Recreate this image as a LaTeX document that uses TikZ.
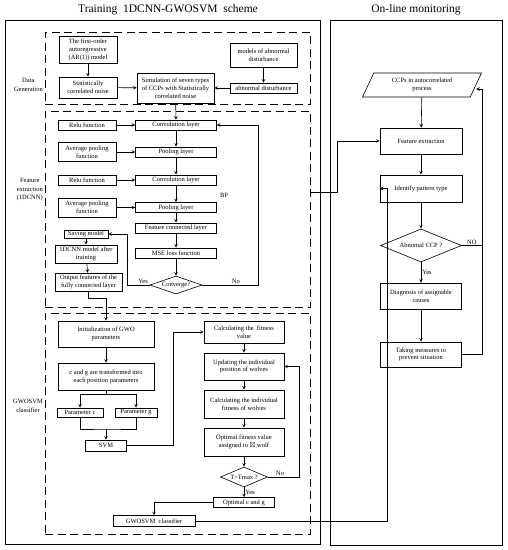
\documentclass[tikz,border=0pt]{standalone}
\usepackage{amsmath, amssymb}
\usepackage{fontspec}
\setmainfont{Liberation Serif}
\usetikzlibrary{shapes.geometric, arrows}
\tikzstyle{block} = [rectangle, draw=black, line width=0.6pt, align=center, inner sep=1pt, font=\fontsize{6.5}{7.8}\selectfont]
\tikzstyle{decision} = [diamond, draw=black, line width=0.6pt, align=center, inner sep=0pt, font=\fontsize{6.5}{7.8}\selectfont]
\tikzstyle{io} = [trapezium, trapezium left angle=65, trapezium right angle=115, trapezium stretches=true, draw=black, line width=0.6pt, align=center, inner sep=1pt, font=\fontsize{6.5}{7.8}\selectfont]
\tikzstyle{group} = [rectangle, draw=black, line width=1pt, dash pattern=on 8pt off 4.5pt, inner sep=0pt]
\tikzstyle{frame} = [draw=black, line width=1pt]
\tikzstyle{tag} = [align=center, inner sep=1pt, font=\fontsize{6.5}{8.5}\selectfont]
\tikzstyle{heading} = [inner sep=1pt, font=\fontsize{11.5}{14}\selectfont]
\tikzstyle{arrow} = [line width=0.6pt,->,>=stealth]

\begin{document}
\begin{tikzpicture}[x=1pt, y=-1pt]
\useasboundingbox (0,0) rectangle (508,550);
\node (lefttitle) [heading] at (168,10) {Training\ \ 1DCNN-GWOSVM\ \ scheme};
\node (righttitle) [heading] at (416,10) {On-line monitoring};
\draw [frame] (5,20) rectangle (320,544);
\draw [frame] (330,20) rectangle (502,545);

% training parts
\node (dgpart) [group, minimum width=265, minimum height=72] at (177.5,68) {};
\node (fepart) [group, minimum width=265, minimum height=196] at (177.5,209) {};
\node (gwpart) [group, minimum width=265, minimum height=221] at (177.5,423.5) {};
\node (dglabel) [tag, anchor=east] at (44,85) {Data\\Generation};
\node (felabel) [tag, anchor=east] at (44,190) {Feature\\extraction\\(1DCNN)};
\node (gwlabel) [tag, anchor=east] at (44,406) {GWOSVM\\classifier};

% data generation
\node (armodel) [block, minimum width=58, minimum height=27] at (88,50) {The first-order\\autoregressive\\(AR(1)) model};
\node (noise) [block, minimum width=58, minimum height=21] at (88,87.5) {Statistically\\correlated noise};
\node (simul) [block, minimum width=77, minimum height=30] at (175.5,88) {Simulation of seven types\\of CCPs with Statistically\\correlated noise};
\node (abnmodel) [block, minimum width=67, minimum height=24] at (263.5,55) {models of abnormal\\disturbance};
\node (abndist) [block, minimum width=67, minimum height=10] at (263.5,88) {abnormal disturbance};

\draw [arrow] (armodel) -- (noise);
\draw [arrow] (noise) -- (simul);
\draw [arrow] (abnmodel) -- (abndist);
\draw [arrow] (abndist) -- (simul);

% 1DCNN
\node (conv1) [block, minimum width=81, minimum height=10] at (176,125) {Convolution layer};
\node (relu1) [block, minimum width=58, minimum height=10] at (87,125) {Relu function};
\node (pool1) [block, minimum width=81, minimum height=10] at (176,152) {Pooling layer};
\node (avg1) [block, minimum width=58, minimum height=19] at (87,152) {Average pooling\\function};
\node (conv2) [block, minimum width=81, minimum height=10] at (176,180) {Convolution layer};
\node (relu2) [block, minimum width=58, minimum height=10] at (87,180) {Relu function};
\node (pool2) [block, minimum width=81, minimum height=10] at (176,207.5) {Pooling layer};
\node (avg2) [block, minimum width=58, minimum height=19] at (87,207.5) {Average pooling\\function};
\node (fclayer) [block, minimum width=81, minimum height=10] at (176,228) {Feature connected layer};
\node (mse) [block, minimum width=81, minimum height=10] at (176,253) {MSE loss function};
\node (converge) [decision, aspect=3, minimum width=52, minimum height=18] at (176,285) {Converge?};
\node (saving) [block, minimum width=44, minimum height=8] at (86,234) {Saving model};
\node (cnnmodel) [block, minimum width=62, minimum height=18] at (86,254) {1DCNN model after\\training};
\node (outfeat) [block, minimum width=67, minimum height=18] at (88.5,282) {Output features of the\\fully connected layer};

\draw [arrow] (simul) -- (conv1);
\draw [arrow] (relu1) -- (conv1);
\draw [arrow] (avg1) -- (pool1);
\draw [arrow] (relu2) -- (conv2);
\draw [arrow] (avg2) -- (pool2);
\draw [arrow] (conv1) -- (pool1);
\draw [arrow] (pool1) -- (conv2);
\draw [arrow] (conv2) -- (pool2);
\draw [arrow] (pool2) -- (fclayer);
\draw [arrow] (fclayer) -- (mse);
\draw [arrow] (mse) -- (converge);
\draw [arrow] (converge.east) -- ++(56,0) node [tag, above, pos=0.6] {No} |- (conv1.east);
\node (bp) [tag] at (224,195) {BP};
\draw [arrow] (converge.west) -- ++(-22,0) node [tag, above, pos=0.3] {Yes} |- (saving.east);
\draw [arrow] (saving) -- (cnnmodel);
\draw [arrow] (cnnmodel) -- (outfeat);

% GWO-SVM
\node (init) [block, minimum width=96, minimum height=26] at (106,334) {Initialization of GWO\\parameters};
\node (transf) [block, minimum width=96, minimum height=27] at (106,376.5) {c and g are transformed into\\each position parameters};
\node (parc) [block, minimum width=46, minimum height=9] at (80,412.5) {Parameter c};
\node (parg) [block, minimum width=42, minimum height=9] at (136,412.5) {Parameter g};
\coordinate (cgjoin) at (106,429);
\node (svm) [block, minimum width=41, minimum height=11] at (106,445.5) {SVM};
\node (fitness) [block, minimum width=80, minimum height=22] at (244,332) {Calculating the\ \ fitness\\value};
\node (update) [block, minimum width=80, minimum height=27] at (244,366.5) {Updating the individual\\position of wolves};
\node (indfit) [block, minimum width=80, minimum height=28] at (244,404) {Calculating the individual\\fitness of wolves};
\node (optfit) [block, minimum width=80, minimum height=28] at (244,442) {Optimal fitness value\\assigned to $\boxtimes$ wolf};
\node (tmax) [decision, aspect=2.4, minimum width=47, minimum height=20] at (244,477) {T>Tmax ?};
\node (optcg) [block, minimum width=61, minimum height=10] at (244,502.5) {Optimal c and g};
\node (gwosvm) [block, minimum width=82, minimum height=11] at (154,521) {GWOSVM\ \ classifier};

\draw [arrow] (outfeat.south) -- ++(0,7) -| (init.north);
\draw [arrow] (init) -- (transf);
\draw [arrow] (transf.south) -- ++(0,4) -| (parc.north);
\draw [arrow] (transf.south) -- ++(0,4) -| (parg.north);
\draw (parc.south) |- (cgjoin) -| (parg.south);
\draw [arrow] (cgjoin) -- (svm.north);
\draw [arrow] (svm.east) -- ++(46,0) |- (fitness.west);
\draw [arrow] (fitness) -- (update);
\draw [arrow] (update) -- (indfit);
\draw [arrow] (indfit) -- (optfit);
\draw [arrow] (optfit) -- (tmax);
\draw [arrow] (tmax.east) -- ++(31,0) node [tag, above, pos=0.4] {No} |- (update.east);
\draw [arrow] (tmax.south) -- node [tag, right] {Yes} (optcg.north);
\draw [arrow] (optcg.west) -| (gwosvm.north);

% on-line monitoring
\node (ccps) [io, minimum width=120, minimum height=24] at (422,85) {CCPs in autocorrelated\\process};
\node (featext) [block, minimum width=82, minimum height=26] at (421,141) {Feature extraction};
\node (identify) [block, minimum width=82, minimum height=27] at (421,188.5) {Identify pattern type};
\node (abnormal) [decision, aspect=2.5, minimum width=81, minimum height=33] at (421,245.5) {Abnomal CCP ?};
\node (diagnosis) [block, minimum width=81, minimum height=26] at (421,296) {Diagnosis of assignable\\causes};
\node (measures) [block, minimum width=81, minimum height=25] at (421,354.5) {Taking measures to\\prevent situation};
\coordinate (nocorner) at (482,245.5);

\draw [arrow] (ccps) -- (featext);
\draw [arrow] (featext) -- (identify);
\draw [arrow] (identify) -- (abnormal);
\draw [arrow] (abnormal) -- node [tag, right] {Yes} (diagnosis);
\draw [arrow] (diagnosis) -- (measures);
\draw [arrow] (abnormal.east) -- node [tag, above] {NO} (nocorner) |- ([yshift=-4pt]ccps.east);
\draw (measures.east) -| (nocorner);
\draw [arrow] ([yshift=17pt]fepart.east) -- ++(27,0) |- (featext.west);
\draw [arrow] (gwosvm.east) -- ++(192,0) |- (identify.west);
\end{tikzpicture}
\end{document}
